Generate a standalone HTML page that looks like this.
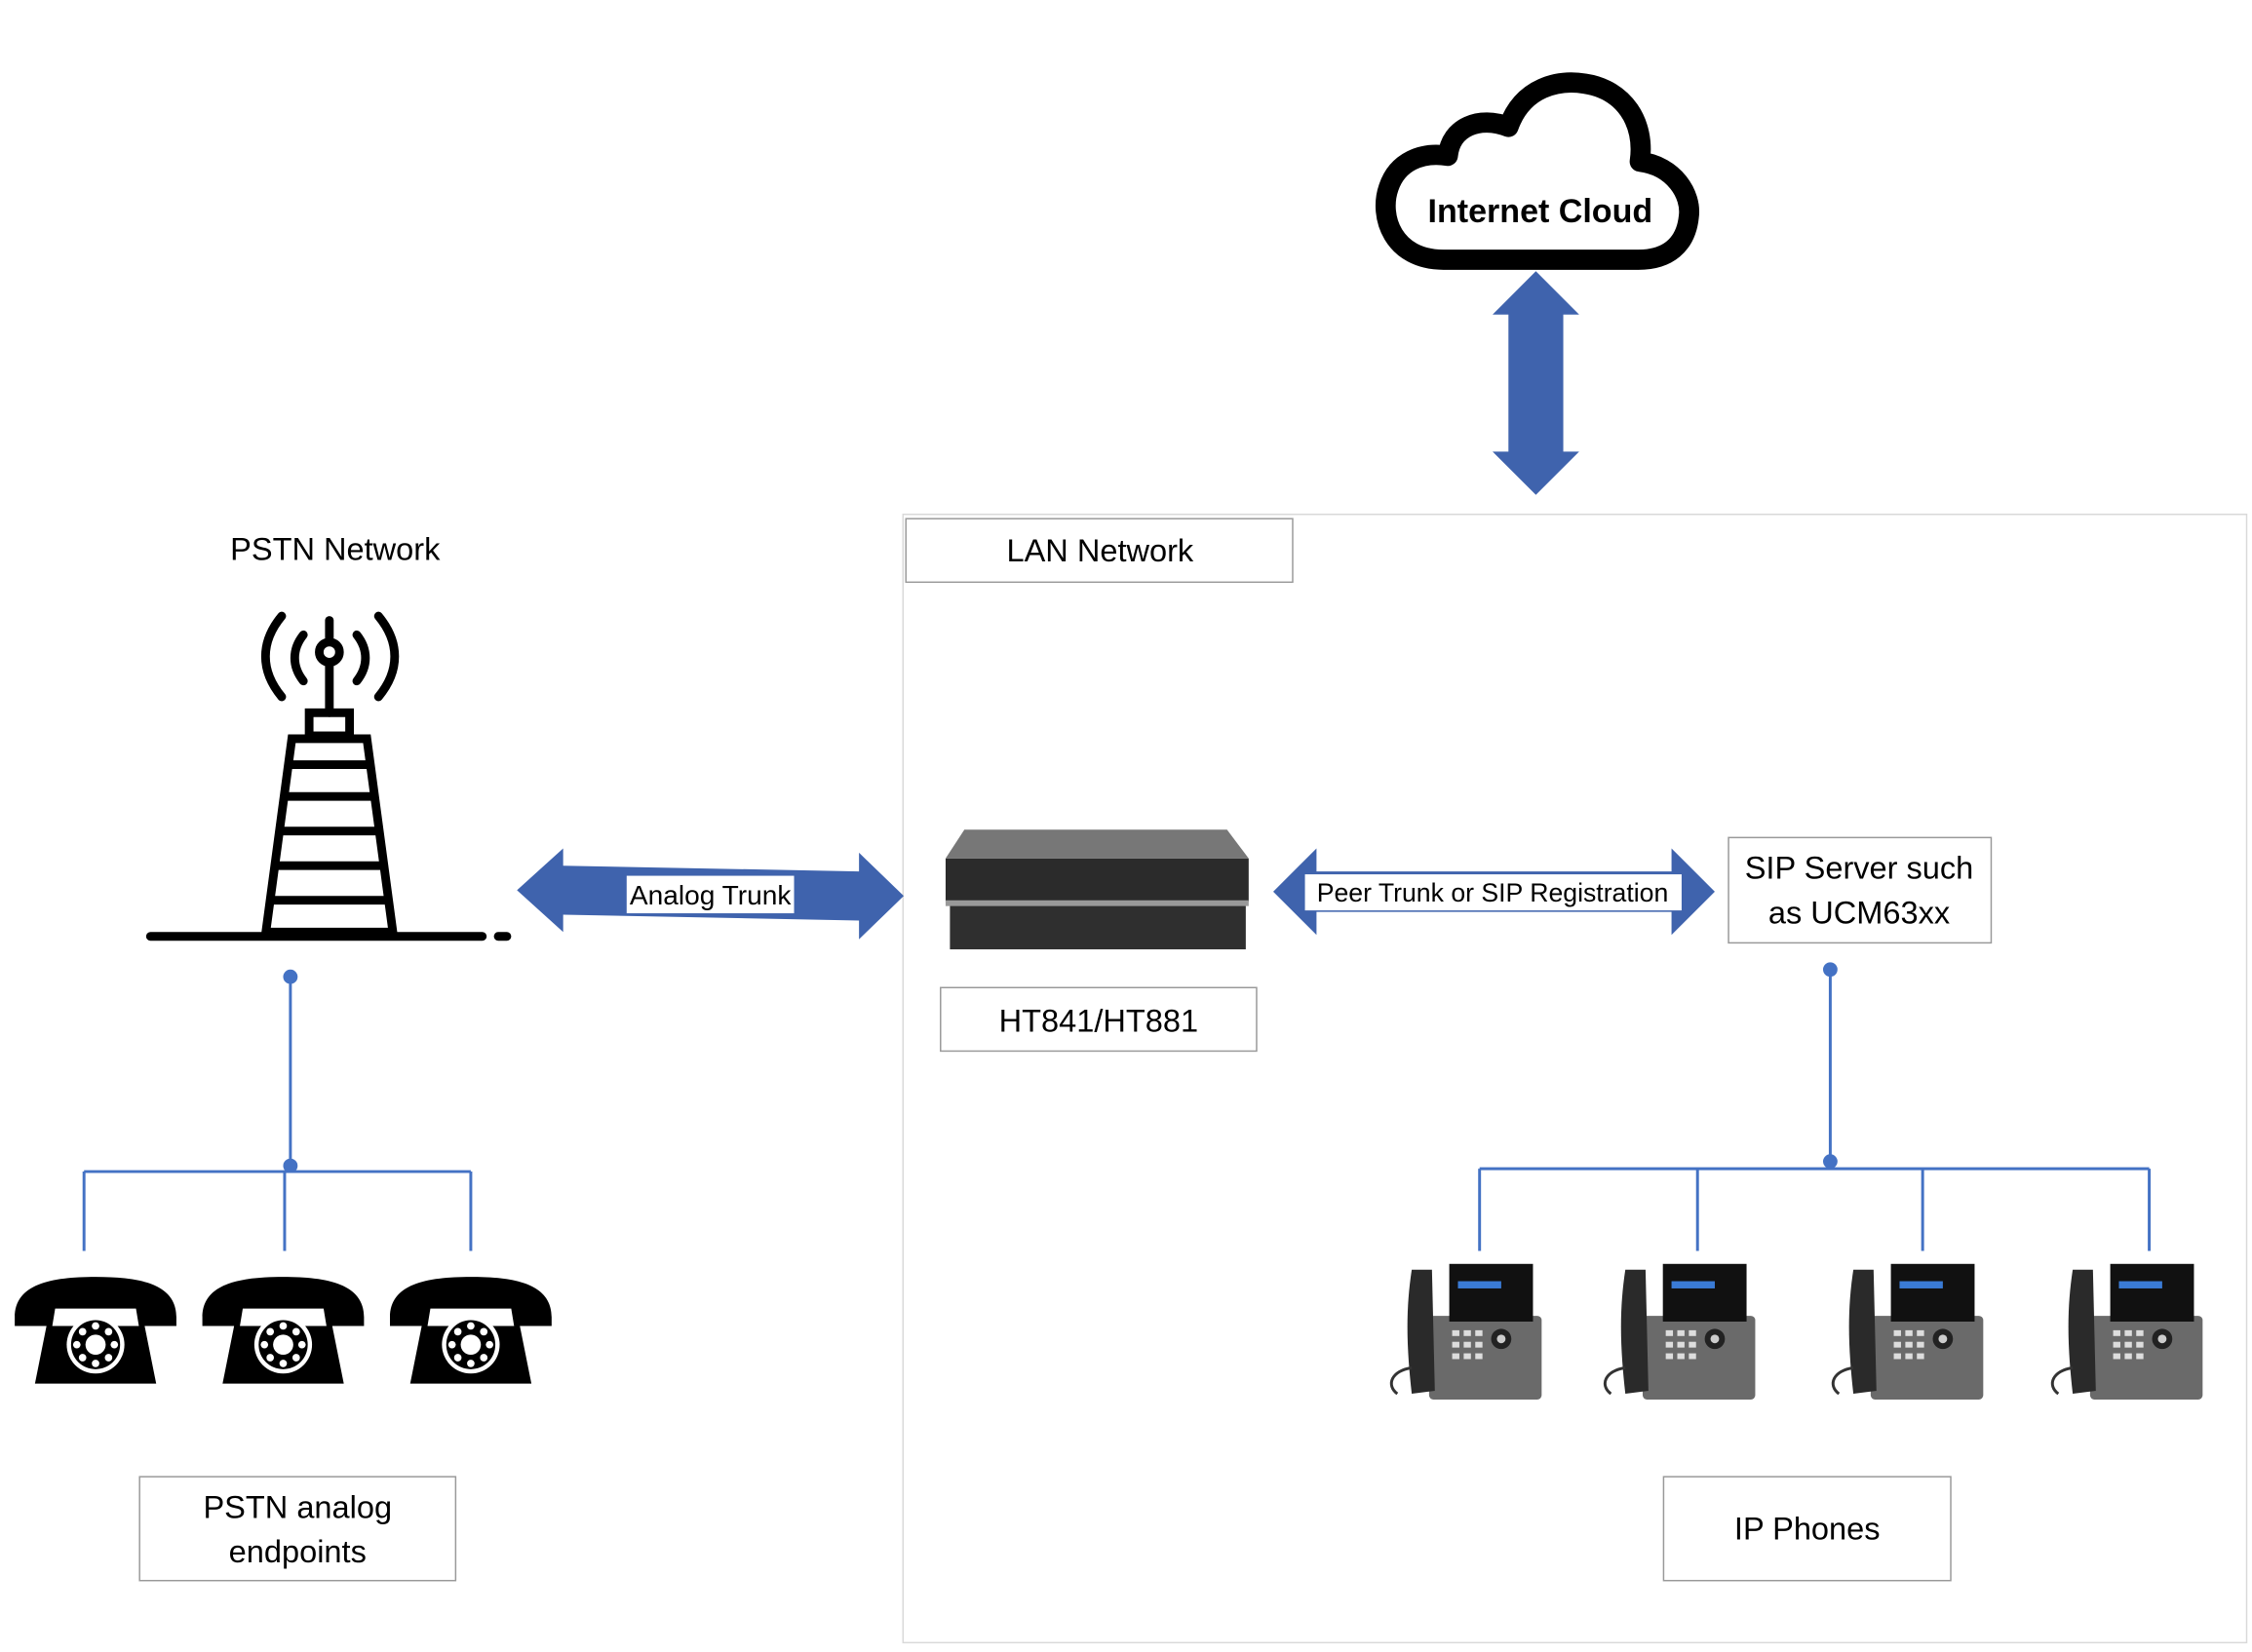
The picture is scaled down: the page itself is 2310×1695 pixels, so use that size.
<!DOCTYPE html>
<html><head><meta charset="utf-8"><style>html,body{margin:0;padding:0;background:#fff}svg{display:block}text{font-family:"Liberation Sans",sans-serif}</style></head>
<body>
<svg width="2310" height="1695" viewBox="0 0 1560 1145" xmlns="http://www.w3.org/2000/svg">
<defs>
<g id="oldphone">
<path d="M0,28 C0,5 25,0 56,0 C87,0 112,5 112,28 L112,34 L86,34 L84,22 L28,22 L26,34 L0,34 Z" fill="#000"/>
<path d="M22,34 L90,34 L98,74 L14,74 Z" fill="#000"/>
<circle cx="56" cy="47" r="20" fill="#fff"/>
<circle cx="56" cy="47" r="17" fill="#000"/>
<circle cx="56" cy="47" r="7" fill="#fff"/>
<g fill="#fff">
<circle cx="56" cy="34" r="2.6"/><circle cx="65" cy="38" r="2.6"/><circle cx="69" cy="47" r="2.6"/><circle cx="65" cy="56" r="2.6"/><circle cx="56" cy="60" r="2.6"/><circle cx="47" cy="56" r="2.6"/><circle cx="43" cy="47" r="2.6"/><circle cx="47" cy="38" r="2.6"/>
</g>
</g>
<g id="ipphone">
<rect x="28" y="36" width="78" height="58" rx="3" fill="#6a6a6a"/>
<rect x="42" y="0" width="58" height="40" fill="#111"/>
<rect x="48" y="12" width="30" height="5" fill="#3a7bd5"/>
<path d="M16,4 L30,4 L32,88 L16,90 C12,55 12,30 16,4 Z" fill="#2a2a2a"/>
<path d="M16,72 C2,74 -2,84 6,90" stroke="#333" stroke-width="2" fill="none"/>
<g fill="#ddd"><rect x="44" y="46" width="5" height="4"/><rect x="52" y="46" width="5" height="4"/><rect x="60" y="46" width="5" height="4"/>
<rect x="44" y="54" width="5" height="4"/><rect x="52" y="54" width="5" height="4"/><rect x="60" y="54" width="5" height="4"/>
<rect x="44" y="62" width="5" height="4"/><rect x="52" y="62" width="5" height="4"/><rect x="60" y="62" width="5" height="4"/></g>
<circle cx="78" cy="52" r="7" fill="#222"/><circle cx="78" cy="52" r="3" fill="#ccc"/>
</g>
</defs>

<rect x="625.5" y="356.5" width="931" height="782" fill="none" stroke="#d9d9d9" stroke-width="1"/>
<rect x="627.5" y="359.5" width="268" height="44" fill="#fff" stroke="#999"/>
<text x="762" y="389" font-size="22" text-anchor="middle">LAN Network</text>

<path d="M1000,180 C965,180 955,150 962,130 C968,112 985,105 1003,108 C1005,88 1025,80 1045,88 C1055,60 1080,55 1098,58 C1125,62 1140,85 1136,112 C1160,115 1172,135 1170,150 C1168,170 1155,180 1135,180 Z" fill="#fff" stroke="#000" stroke-width="14" stroke-linejoin="round"/>
<text x="1067" y="154" font-size="23" font-weight="bold" text-anchor="middle">Internet Cloud</text>

<polygon points="1064,188 1094,218 1083,218 1083,313 1094,313 1064,343 1034,313 1045,313 1045,218 1034,218" fill="#3f63ad"/>

<text x="232" y="388" font-size="22" text-anchor="middle">PSTN Network</text>
<g stroke="#000" fill="none" stroke-width="6" stroke-linecap="round">
<path d="M195,427 C180,445 180,465 195,483"/><path d="M262,427 C277,445 277,465 262,483"/>
<path d="M210,440 C202,450 202,462 210,472"/><path d="M247,440 C255,450 255,462 247,472"/>
<circle cx="228" cy="452" r="7"/>
<line x1="228" y1="430" x2="228" y2="442"/><line x1="228" y1="460" x2="228" y2="494"/>
<rect x="214" y="494" width="28" height="16"/>
<path d="M202,512 L254,512 L272,646 L184,646 Z"/>
<line x1="200" y1="530" x2="256" y2="530"/><line x1="197" y1="552" x2="259" y2="552"/><line x1="194" y1="576" x2="262" y2="576"/><line x1="191" y1="600" x2="265" y2="600"/><line x1="188" y1="624" x2="268" y2="624"/>
<line x1="104" y1="649" x2="334" y2="649"/><line x1="345" y1="649" x2="351" y2="649"/>
</g>

<polygon points="358,617 390,588 390,600 595,604 595,591 626,621 595,651 595,638 390,634 390,646" fill="#3f63ad"/>
<rect x="434" y="607" width="116" height="26" fill="#fff"/>
<text x="492" y="627" font-size="19" text-anchor="middle">Analog Trunk</text>

<path d="M668,575 L850,575 L865,595 L655,595 Z" fill="#777"/>
<rect x="655" y="595" width="210" height="30" fill="#2b2b2b"/>
<rect x="658" y="627" width="205" height="31" fill="#2f2f2f"/>
<rect x="655" y="624" width="210" height="4" fill="#999"/>
<rect x="651.5" y="684.5" width="219" height="44" fill="#fff" stroke="#999"/>
<text x="761" y="715" font-size="22" text-anchor="middle">HT841/HT881</text>

<polygon points="882,618 912,588 912,604 1158,604 1158,588 1188,618 1158,648 1158,632 912,632 912,648" fill="#3f63ad"/>
<rect x="904" y="606" width="261" height="25" fill="#fff"/>
<text x="1034" y="625" font-size="18" text-anchor="middle">Peer Trunk or SIP Registration</text>

<rect x="1197.5" y="580.5" width="182" height="73" fill="#fff" stroke="#999"/>
<text x="1288" y="609" font-size="22" text-anchor="middle">SIP Server such</text>
<text x="1288" y="640" font-size="22" text-anchor="middle">as UCM63xx</text>

<g stroke="#4472c4" stroke-width="2" fill="none">
<line x1="1268" y1="672" x2="1268" y2="810"/>
<line x1="1025" y1="810" x2="1489" y2="810"/>
<line x1="1025" y1="810" x2="1025" y2="867"/><line x1="1176" y1="810" x2="1176" y2="867"/><line x1="1332" y1="810" x2="1332" y2="867"/><line x1="1489" y1="810" x2="1489" y2="867"/>
<line x1="201" y1="677" x2="201" y2="812"/>
<line x1="58" y1="812" x2="326" y2="812"/>
<line x1="58" y1="812" x2="58" y2="867"/><line x1="197" y1="812" x2="197" y2="867"/><line x1="326" y1="812" x2="326" y2="867"/>
</g>
<g fill="#4472c4"><circle cx="1268" cy="672" r="5"/><circle cx="1268" cy="805" r="5"/><circle cx="201" cy="677" r="5"/><circle cx="201" cy="808" r="5"/></g>

<use href="#oldphone" x="10" y="885"/>
<use href="#oldphone" x="140" y="885"/>
<use href="#oldphone" x="270" y="885"/>
<rect x="96.5" y="1023.5" width="219" height="72" fill="#fff" stroke="#999"/>
<text x="206" y="1052" font-size="22" text-anchor="middle">PSTN analog</text>
<text x="206" y="1083" font-size="22" text-anchor="middle">endpoints</text>

<use href="#ipphone" x="962" y="876"/>
<use href="#ipphone" x="1110" y="876"/>
<use href="#ipphone" x="1268" y="876"/>
<use href="#ipphone" x="1420" y="876"/>
<rect x="1152.5" y="1023.5" width="199" height="72" fill="#fff" stroke="#999"/>
<text x="1252" y="1067" font-size="22" text-anchor="middle">IP Phones</text>
</svg>
</body></html>
